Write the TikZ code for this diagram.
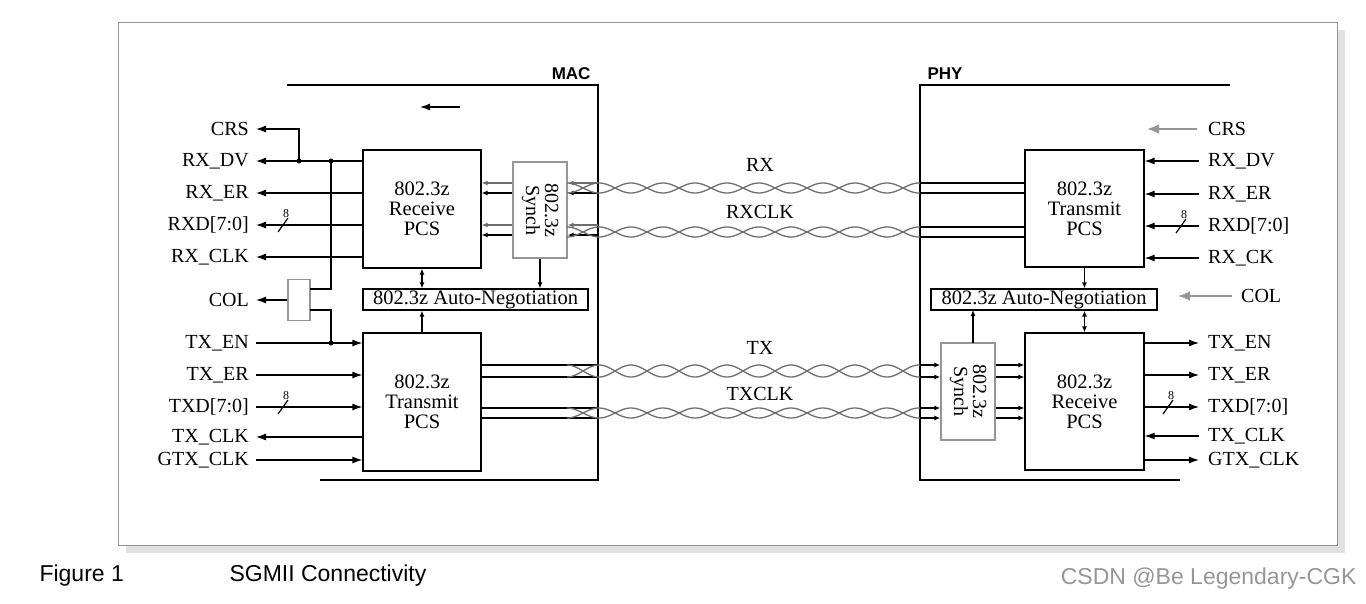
\documentclass[tikz,border=0pt]{standalone}
\usepackage{fontspec}
\setmainfont{Liberation Serif}
\newfontfamily\sffam{Liberation Sans}
\usetikzlibrary{positioning,arrows.meta}

\definecolor{frame}{RGB}{150,150,150}
\definecolor{shadow}{RGB}{225,225,225}
\definecolor{wire}{RGB}{110,110,110}

\tikzset{
  blk/.style={draw, line width=1.2pt, align=center, font=\fontsize{20.5}{20}\selectfont},
  syn/.style={draw=frame, line width=1.4pt, fill=white, minimum width=54pt, minimum height=96pt, inner sep=0pt},
  sig/.style={font=\fontsize{20}{22}\selectfont, inner sep=1pt},
  con/.style={line width=1.2pt},
  ar/.style={con, -{Latex[length=10pt,width=7pt]}},
  gar/.style={line width=2.5pt, draw=frame, -{Latex[length=12pt,width=10pt]}},
  pair/.style={line width=1.3pt, draw=wire},
  dot/.style={circle, fill, inner sep=0pt, minimum size=5pt}
}

% twisted pair between two heights
\newcommand\twistpair[2]{%
  \draw[pair] plot[domain=567:920, samples=240] (\x, {#1+#2/2 + #2/2*cos((\x-567)*5.625)});
  \draw[pair] plot[domain=567:920, samples=240] (\x, {#1+#2/2 - #2/2*cos((\x-567)*5.625)});
}
% bus marker
\newcommand\busmark[2]{%
  \draw[con] (#1-5,#2+7) -- (#1+5,#2-7);
  \node[font=\fontsize{12}{13}\selectfont, inner sep=0pt] at (#1+3,#2-11) {8};
}

\begin{document}
\begin{tikzpicture}[x=1pt, y=-1pt]
\useasboundingbox (0,0) rectangle (1366,603);
% frame
\fill[shadow] (126,30) rectangle (1345,553);
\draw[frame, fill=white, line width=1pt] (118,22) rectangle (1337,545);

% MAC / PHY outlines
\draw[line width=1.8pt] (287,85) -- (598,85) -- (598,480) -- (320,480);
\draw[line width=1.8pt] (1230,85) -- (920,85) -- (920,480) -- (1180,480);
\node[font=\sffam\bfseries\fontsize{17}{19}\selectfont, anchor=south east] (mac) at (594,83) {MAC};
\node[font=\sffam\bfseries\fontsize{17}{19}\selectfont, anchor=south west] (phy) at (924,83) {PHY};
\coordinate (dirA) at (460,107);
\coordinate (dirB) at (420,107);
\draw[ar] (dirA) -- (dirB);

% MAC blocks
\node[blk, minimum width=118pt, minimum height=118pt] (mrx) at (422,209) {802.3z\\Receive\\PCS};
\node[blk, minimum width=118pt, minimum height=138pt] (mtx) at (422,402) {802.3z\\Transmit\\PCS};
\node[blk, minimum width=225pt, minimum height=21pt, inner sep=0pt] (man) at (475.5,299.5) {802.3z Auto-Negotiation};
\node[syn] (msy) at (540,210) {};
\node[rotate=-90, align=center, font=\fontsize{20}{19}\selectfont] at (msy) {802.3z\\Synch};
\node[draw=frame, line width=1.4pt, minimum width=22pt, minimum height=41pt, inner sep=0pt] (colbox) at (299,300) {};

% PHY blocks
\node[blk, minimum width=119pt, minimum height=117pt] (ptx) at (1084.5,208.5) {802.3z\\Transmit\\PCS};
\node[blk, minimum width=119pt, minimum height=137pt] (prx) at (1084.5,401.5) {802.3z\\Receive\\PCS};
\node[blk, minimum width=226pt, minimum height=21pt, inner sep=0pt] (pan) at (1044,299.5) {802.3z Auto-Negotiation};
\node[syn, minimum height=97pt] (psy) at (968,391.5) {};
\node[rotate=-90, align=center, font=\fontsize{20}{19}\selectfont] at (psy) {802.3z\\Synch};

% MAC signals
\foreach \nm/\txt/\yy in {crs/CRS/129, rxdv/RX\_DV/161, rxer/RX\_ER/193, rxd/{RXD[7:0]}/225, rxclk/RX\_CLK/257, col/COL/300,
  txen/TX\_EN/343, txer/TX\_ER/375, txd/{TXD[7:0]}/407, txclk/TX\_CLK/437, gtx/GTX\_CLK/460}
  \node[sig, anchor=east] (m\nm) at (250,\yy) {\txt};
\foreach \nm in {rxdv,rxer,rxd,rxclk}
  \draw[ar] (mrx.west |- m\nm) -- ([xshift=6pt]m\nm.east);
\foreach \nm in {txen,txer,txd,gtx}
  \draw[ar] ([xshift=6pt]m\nm.east) -- (mtx.west |- m\nm);
\draw[ar] (mtx.west |- mtxclk) -- ([xshift=6pt]mtxclk.east);
\node[dot] (d1) at (299,161) {};
\node[dot] (d2) at (331,161) {};
\node[dot] (d3) at (331,343) {};
\draw[ar] (d1.center) -- (d1.center |- mcrs) -- ([xshift=6pt]mcrs.east);
\draw[con] (d2.center) -- (331,289) -- (310,289);
\draw[con] (310,310) -- (331,310) -- (d3.center);
\draw[ar] (colbox.west) -- ([xshift=6pt]mcol.east);
\busmark{283}{225}
\busmark{283}{407}

% MAC internal
\draw[con, {Latex[length=6pt,width=5pt]}-{Latex[length=6pt,width=5pt]}] (mrx.south) -- (mrx.south |- man.north);
\draw[con, -{Latex[length=6pt,width=5pt]}] (mtx.north) -- (mtx.north |- man.south);
\draw[con, -{Latex[length=6pt,width=5pt]}] (msy.south) -- (msy.south |- man.north);
\foreach \yy/\cc in {183/wire,193/black,225/wire,235/black}{
  \draw[con, draw=\cc, -{Latex[length=6pt,width=5pt]}] (msy.west |- 0,\yy) -- (mrx.east |- 0,\yy);
  \draw[con, draw=\cc, -{Latex[length=6pt,width=5pt]}] (598,\yy) -- (msy.east |- 0,\yy);
}
\foreach \yy in {365,377,408,418}
  \draw[con] (mtx.east |- 0,\yy) -- (598,\yy);

% twisted pairs
\twistpair{183}{10}
\twistpair{227}{10}
\twistpair{365}{12}
\twistpair{408}{10}
\node[sig] (lrx) at (760,165) {RX};
\node[sig] (lrxclk) at (760,212) {RXCLK};
\node[sig] (ltx) at (760,348) {TX};
\node[sig] (ltxclk) at (760,394) {TXCLK};

% PHY internal
\foreach \yy in {183,193,227,237}
  \draw[con] (920,\yy) -- (ptx.west |- 0,\yy);
\foreach \yy in {365,377,408,418}{
  \draw[con, -{Latex[length=6pt,width=5pt]}] (920,\yy) -- (psy.west |- 0,\yy);
  \draw[con, -{Latex[length=6pt,width=5pt]}] (psy.east |- 0,\yy) -- (prx.west |- 0,\yy);
}
\draw[con, -{Latex[length=6pt,width=5pt]}] (ptx.south) -- (ptx.south |- pan.north);
\draw[con, {Latex[length=6pt,width=5pt]}-{Latex[length=6pt,width=5pt]}] (prx.north) -- (prx.north |- pan.south);
\draw[con, -{Latex[length=6pt,width=5pt]}] (973,343) -- (973,310);

% PHY signals
\foreach \nm/\txt/\yy in {crs/CRS/129, rxdv/RX\_DV/161, rxer/RX\_ER/194, rxd/{RXD[7:0]}/226, rxck/RX\_CK/258,
  txen/TX\_EN/343, txer/TX\_ER/375, txd/{TXD[7:0]}/407, txclk/TX\_CLK/436, gtx/GTX\_CLK/460}
  \node[sig, anchor=west] (p\nm) at (1207,\yy) {\txt};
\node[sig, anchor=west] (pcol) at (1240,296) {COL};
\foreach \nm in {rxdv,rxer,rxd,rxck,txclk}
  \draw[ar] ([xshift=-8pt]p\nm.west) -- (ptx.east |- p\nm);
\foreach \nm in {txen,txer,txd,gtx}
  \draw[ar] (prx.east |- p\nm) -- ([xshift=-8pt]p\nm.west);
\draw[gar] ([xshift=-10pt]pcrs.west) -- ([xshift=-60pt]pcrs.west);
\draw[gar] ([xshift=-8pt]pcol.west) -- ([xshift=-62pt]pcol.west);
\busmark{1181}{226}
\busmark{1168}{407}

% caption
\node[font=\sffam\fontsize{23}{25}\selectfont, anchor=west] (fig) at (36,576) {Figure 1};
\node[font=\sffam\fontsize{23}{25}\selectfont, anchor=west] (cap) at (226,576) {SGMII Connectivity};
\node[font=\sffam\fontsize{23}{25}\selectfont, text=frame, anchor=east] (mark) at (1360,579) {CSDN @Be Legendary-CGK};
\end{tikzpicture}
\end{document}
